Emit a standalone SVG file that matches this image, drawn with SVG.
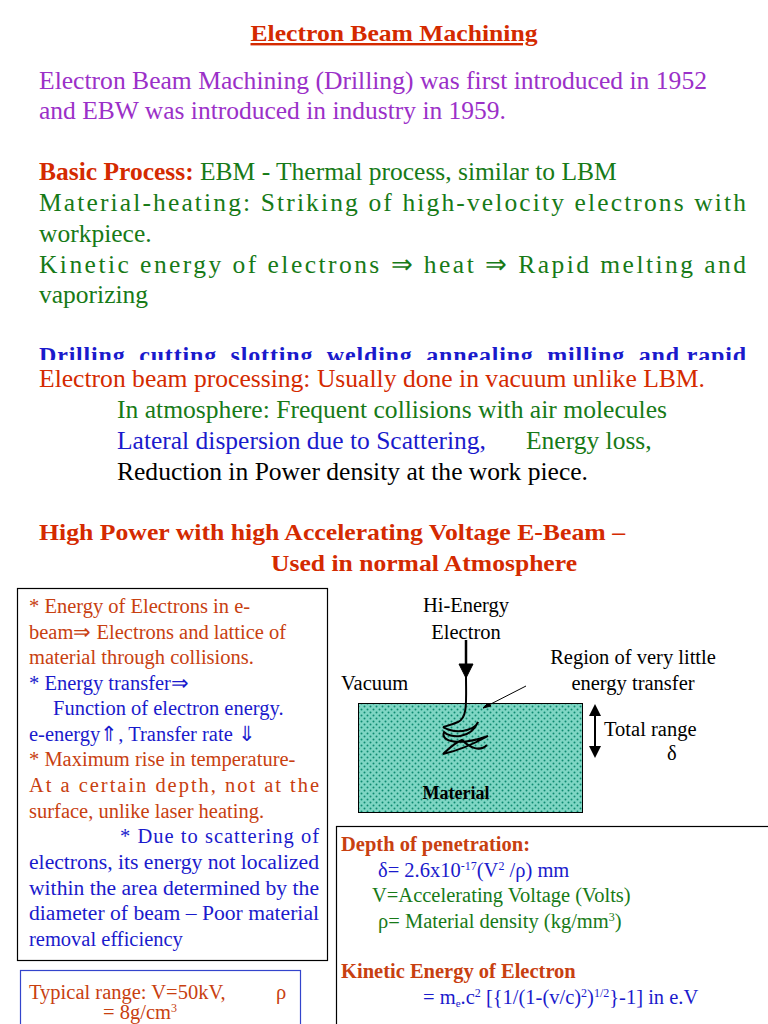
<svg xmlns="http://www.w3.org/2000/svg" width="768" height="1024" viewBox="0 0 768 1024" font-family="'Liberation Serif', 'Times New Roman', Times, serif">
<defs>
<style>
text{font-family:'Liberation Serif','Times New Roman',Times,serif}
.b{font-size:25.5px}
.s{font-size:20.5px}
.pu{fill:#9b30c8}.gr{fill:#177a17}.rd{fill:#d42a00}.bl{fill:#1a1acc}.bk{fill:#000}.or{fill:#c84010}
.bold{font-weight:bold}
</style>
<pattern id="dots" width="6" height="6" patternUnits="userSpaceOnUse">
<rect width="6" height="6" fill="#7fd6c4"/>
<circle cx="1.5" cy="1.5" r="1" fill="#0e8a70"/>
<circle cx="4.5" cy="4.5" r="1" fill="#0e8a70"/>
</pattern>
<marker id="ah" viewBox="0 0 10 10" refX="5" refY="5" markerWidth="6" markerHeight="6" orient="auto-start-reverse"><path d="M0,0L10,5L0,10z" fill="#000"/></marker>
</defs>
<rect width="768" height="1024" fill="#fff"/>
<text x="394" y="41" text-anchor="middle" class="rd bold" font-size="24" text-decoration="underline" textLength="287" lengthAdjust="spacingAndGlyphs">Electron Beam Machining</text>
<text x="39" y="89" class="b pu" textLength="668" lengthAdjust="spacingAndGlyphs">Electron Beam Machining (Drilling) was first introduced in 1952</text>
<text x="39" y="119" class="b pu">and EBW was introduced in industry in 1959.</text>
<text x="39" y="180" class="b gr"><tspan class="rd bold">Basic Process:</tspan> EBM - Thermal process, similar to LBM</text>
<text x="39" y="211" class="b gr" textLength="707" lengthAdjust="spacing">Material-heating: Striking of high-velocity electrons with</text>
<text x="39" y="242" class="b gr">workpiece.</text>
<text x="39" y="273" class="b gr" textLength="707" lengthAdjust="spacing">Kinetic energy of electrons  ⇒ heat ⇒ Rapid melting and</text>
<text x="39" y="303" class="b gr">vaporizing</text>
<text x="39" y="363" class="bl bold" font-size="24" textLength="707" lengthAdjust="spacing">Drilling, cutting, slotting, welding, annealing, milling, and rapid</text>
<rect x="0" y="360" width="768" height="10" fill="#fff"/>
<text x="39" y="387" class="b rd" textLength="666" lengthAdjust="spacingAndGlyphs">Electron beam processing: Usually done in vacuum unlike LBM.</text>
<text x="117" y="418" class="b gr" textLength="550" lengthAdjust="spacingAndGlyphs">In atmosphere: Frequent collisions with air molecules</text>
<text x="117" y="449" class="b bl">Lateral dispersion due to Scattering,<tspan class="gr" x="526">Energy loss,</tspan></text>
<text x="117" y="480" class="b bk" textLength="471" lengthAdjust="spacingAndGlyphs">Reduction in Power density at the work piece.</text>
<text x="39" y="540" class="rd bold" font-size="24" textLength="586" lengthAdjust="spacingAndGlyphs">High Power with high Accelerating Voltage E-Beam –</text>
<text x="271" y="571" class="rd bold" font-size="24" textLength="306" lengthAdjust="spacingAndGlyphs">Used in normal Atmosphere</text>
<g id="left-box">
<rect x="17.5" y="588.5" width="310" height="372" fill="none" stroke="#000" stroke-width="1.2"/>
<text class="s or"><tspan x="29" y="613">* Energy of  Electrons  in e-</tspan><tspan x="29" y="639">beam⇒  Electrons and lattice of</tspan><tspan x="29" y="664">material through collisions.</tspan></text>
<text class="s bl"><tspan x="29" y="690">* Energy transfer⇒</tspan><tspan x="53" y="715">Function of  electron energy.</tspan><tspan x="29" y="741">e-energy⇑, Transfer rate ⇓</tspan></text>
<text class="s or"><tspan x="29" y="766">* Maximum rise in temperature-</tspan><tspan x="29" y="792" textLength="290" lengthAdjust="spacing">At a certain depth, not at the</tspan><tspan x="29" y="818">surface, unlike laser heating.</tspan></text>
<text class="s bl"><tspan x="120" y="843" textLength="199" lengthAdjust="spacing">* Due to scattering of</tspan><tspan x="29" y="869" textLength="290" lengthAdjust="spacingAndGlyphs">electrons, its energy not localized</tspan><tspan x="29" y="895" textLength="290" lengthAdjust="spacingAndGlyphs">within the area determined by the</tspan><tspan x="29" y="920" textLength="290" lengthAdjust="spacingAndGlyphs">diameter of beam – Poor material</tspan><tspan x="29" y="946">removal efficiency</tspan></text>
</g>
<g id="range-box">
<rect x="20.5" y="970.5" width="280" height="60" fill="none" stroke="#3344cc" stroke-width="1.2"/>
<text x="29" y="999" class="s or">Typical range: V=50kV,</text>
<text x="276" y="999" class="s or">ρ</text>
<text x="103" y="1019" class="s or">= 8g/cm<tspan font-size="12" dy="-7">3</tspan></text>
</g>
<g id="diagram">
<rect x="358.5" y="703.5" width="224" height="109" fill="url(#dots)" stroke="#000" stroke-width="1"/>
<text x="466" y="612" text-anchor="middle" class="s bk">Hi-Energy</text>
<text x="466" y="639" text-anchor="middle" class="s bk">Electron</text>
<text x="633" y="664" text-anchor="middle" class="s bk">Region of very little</text>
<text x="633" y="690" text-anchor="middle" class="s bk">energy transfer</text>
<text x="341" y="690" class="s bk">Vacuum</text>
<text x="604" y="736" class="s bk">Total range</text>
<text x="667" y="760" class="s bk">δ</text>
<text x="456" y="799" text-anchor="middle" class="bk bold" font-size="18">Material</text>
</g>
<g id="connectors" fill="none" stroke="#000">
<path d="M466,640 V674" stroke-width="2.5"/>
<path d="M459,664 L473,664 L466,678 z" fill="#000" stroke-width="1"/>
<path d="M466,676 C466,700 468,718 458,722 C444,728 438,726 450,730 C462,734 476,728 478,722 C470,740 450,738 444,732 C440,742 460,746 488,736 C470,746 452,752 443,754 C446,752 452,744 462,740 C470,748 480,752 487,745" stroke-width="2"/>
<path d="M526,686 L483,708" stroke-width="1"/>
<path d="M483,708 l8,-2 l-3,-3z" fill="#000"/>
<path d="M595,710 V752" stroke-width="2" marker-start="url(#ah)" marker-end="url(#ah)"/>
</g>
<g id="formula-box">
<rect x="336.5" y="826.5" width="447" height="210" fill="none" stroke="#000" stroke-width="1.2"/>
<text x="341" y="851" class="s or bold">Depth of penetration:</text>
<text x="378" y="877" class="s bl">δ= 2.6x10<tspan font-size="12" dy="-7">-17</tspan><tspan dy="7">(V</tspan><tspan font-size="12" dy="-7">2</tspan><tspan dy="7"> /ρ) mm</tspan></text>
<text x="372" y="902" class="s gr">V=Accelerating Voltage (Volts)</text>
<text x="378" y="928" class="s gr">ρ= Material density (kg/mm<tspan font-size="12" dy="-7">3</tspan><tspan dy="7">)</tspan></text>
<text x="341" y="978" class="s or bold">Kinetic Energy of Electron</text>
<text x="423" y="1004" class="s bl">= m<tspan font-size="11" dy="3">e</tspan><tspan dy="-3">.c</tspan><tspan font-size="12" dy="-7">2</tspan><tspan dy="7"> [{1/(1-(v/c)</tspan><tspan font-size="12" dy="-7">2</tspan><tspan dy="7">)</tspan><tspan font-size="12" dy="-7">1/2</tspan><tspan dy="7">}-1]  in  e.V</tspan></text>
</g>
</svg>
